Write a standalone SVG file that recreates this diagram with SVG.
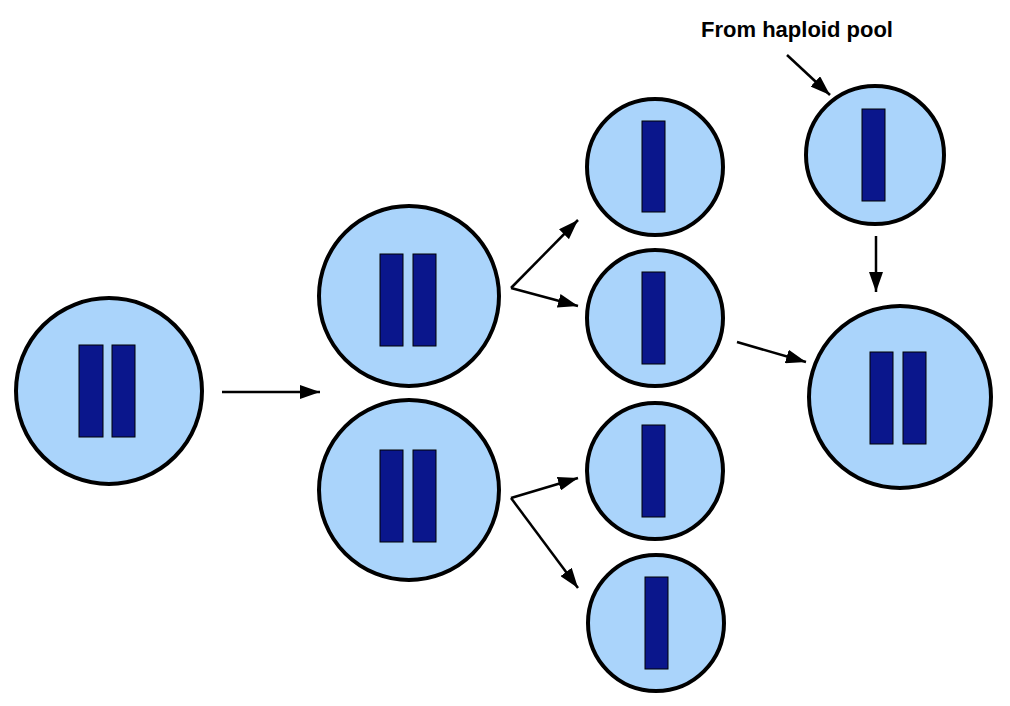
<svg xmlns="http://www.w3.org/2000/svg" width="1010" height="706" viewBox="0 0 1010 706">
<style>
.cell{fill:#aad4fb;stroke:#000;stroke-width:4}
.bar{fill:#0a168c;stroke:#000;stroke-width:1}
.arr{stroke:#000;stroke-width:2.5;fill:none;marker-end:url(#ah)}
text{font-family:"Liberation Sans",Arial,sans-serif;font-weight:bold;font-size:22px}
</style>
<defs><marker id="ah" viewBox="0 0 10 10" refX="9" refY="5" markerWidth="8" markerHeight="8" markerUnits="userSpaceOnUse" orient="auto"><path d="M0,0L10,5L0,10z" fill="#000" transform="scale(1)"/></marker></defs>
<defs><marker id="ah2" viewBox="0 0 20 14" refX="20" refY="7" markerWidth="20" markerHeight="14" markerUnits="userSpaceOnUse" orient="auto"><path d="M0,0L20,7L0,14z" fill="#000"/></marker></defs>
<style>.arr{marker-end:url(#ah2)}</style>
<g id="cell1"><circle class="cell" cx="109" cy="391" r="93"/><rect class="bar" x="79" y="345" width="24" height="92"/><rect class="bar" x="112" y="345" width="23" height="92"/></g>
<g id="cell2"><circle class="cell" cx="409" cy="296" r="90"/><rect class="bar" x="380" y="254" width="23" height="92"/><rect class="bar" x="413" y="254" width="23" height="92"/></g>
<g id="cell3"><circle class="cell" cx="409" cy="490" r="90"/><rect class="bar" x="380" y="450" width="23" height="92"/><rect class="bar" x="413" y="450" width="23" height="92"/></g>
<g id="cellA"><circle class="cell" cx="655" cy="167" r="68"/><rect class="bar" x="642" y="121" width="23" height="91"/></g>
<g id="cellB"><circle class="cell" cx="655" cy="318" r="68"/><rect class="bar" x="642" y="272" width="23" height="92"/></g>
<g id="cellC"><circle class="cell" cx="655" cy="471" r="68"/><rect class="bar" x="642" y="425" width="23" height="92"/></g>
<g id="cellD"><circle class="cell" cx="656" cy="623" r="68"/><rect class="bar" x="645" y="577" width="23" height="92"/></g>
<g id="cellH"><circle class="cell" cx="875" cy="155" r="69"/><rect class="bar" x="862" y="109" width="23" height="92"/></g>
<g id="cellZ"><circle class="cell" cx="900" cy="397" r="91"/><rect class="bar" x="870" y="352" width="23" height="92"/><rect class="bar" x="903" y="352" width="23" height="92"/></g>
<g id="label"><text x="797" y="37" text-anchor="middle">From haploid pool</text></g>
<g id="connectors">
<line class="arr" x1="222" y1="392" x2="320" y2="392"/>
<line class="arr" x1="511" y1="288" x2="578" y2="220"/>
<line class="arr" x1="511" y1="288" x2="578" y2="306"/>
<line class="arr" x1="511" y1="498" x2="578" y2="478"/>
<line class="arr" x1="511" y1="498" x2="578" y2="588"/>
<line class="arr" x1="737" y1="342" x2="806" y2="362"/>
<line class="arr" x1="876" y1="236" x2="876" y2="292"/>
<line class="arr" x1="787" y1="55" x2="830" y2="95"/>
</g>
</svg>
